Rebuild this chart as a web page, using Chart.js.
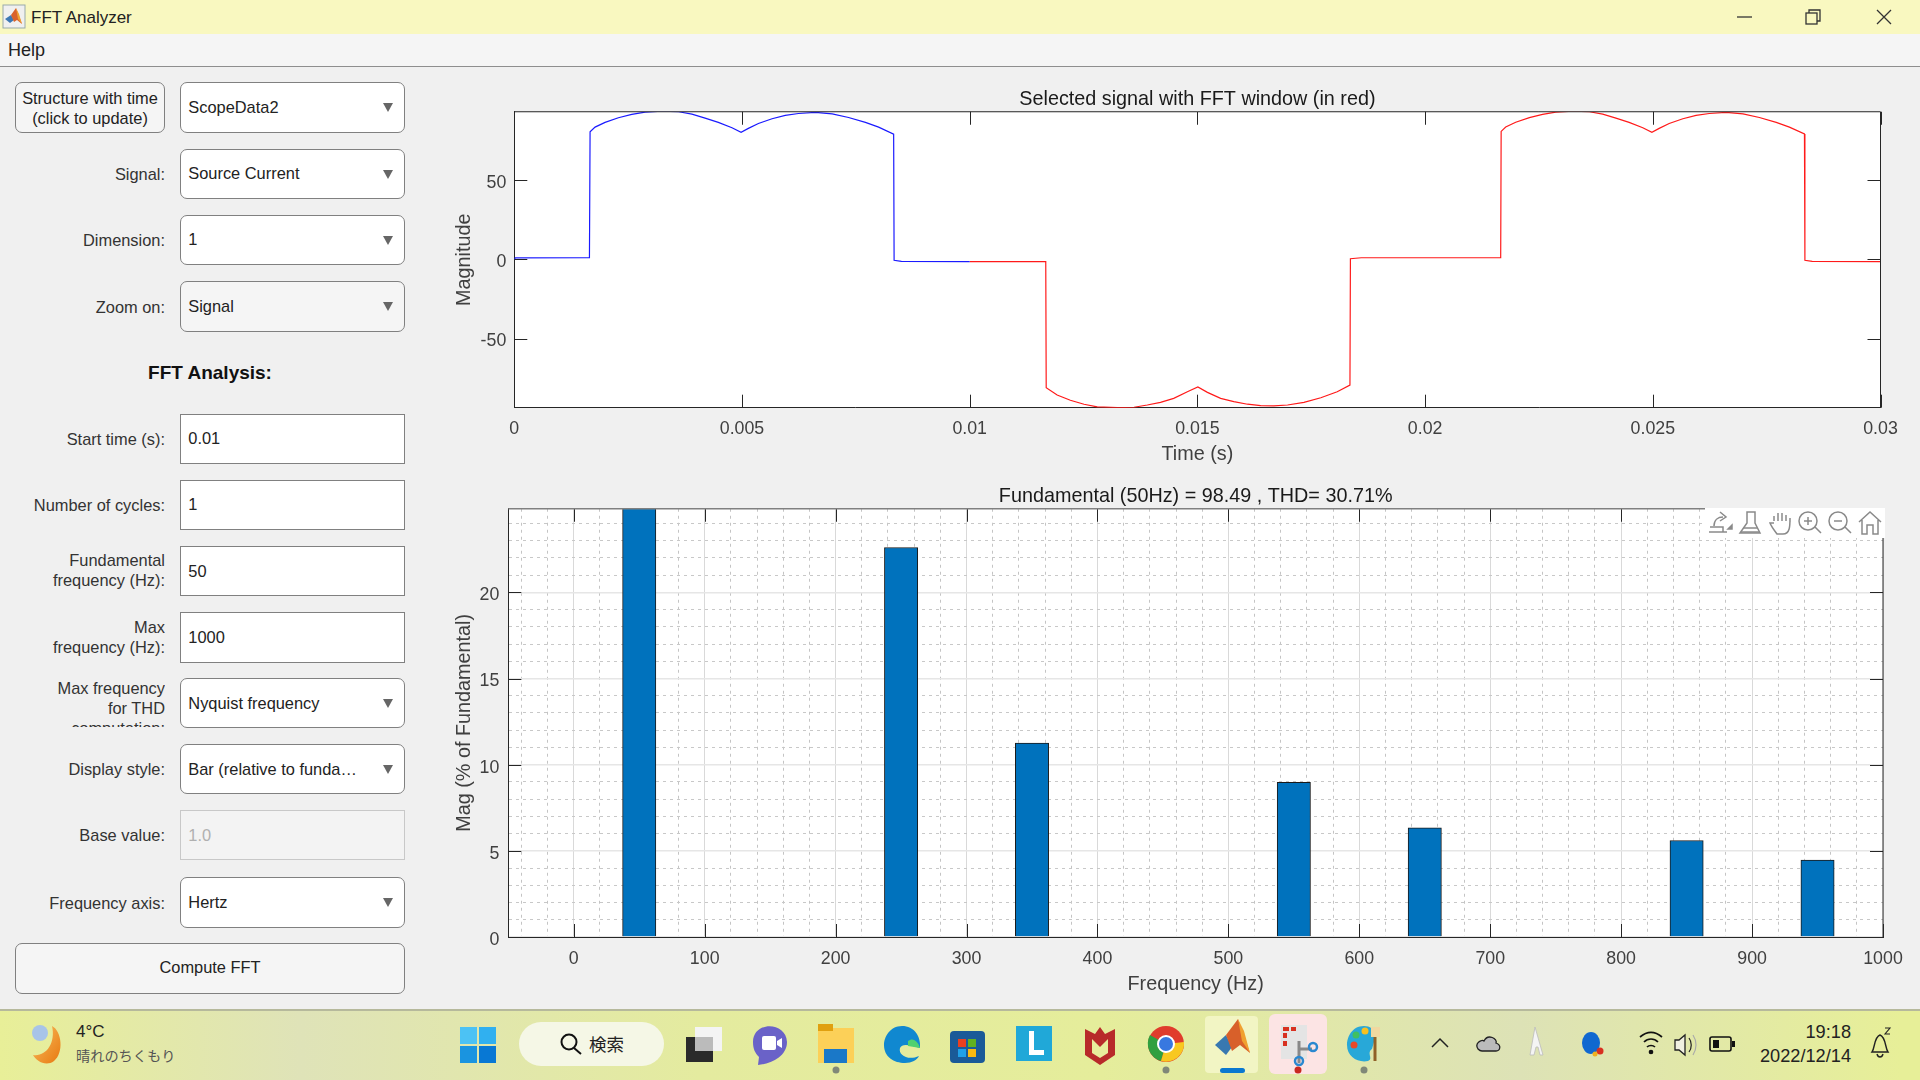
<!DOCTYPE html>
<html><head><meta charset="utf-8"><title>FFT Analyzer</title>
<script src="https://cdn.jsdelivr.net/npm/chart.js@4/dist/chart.umd.min.js"></script>
<style>
html,body{margin:0;padding:0;width:1920px;height:1080px;overflow:hidden;background:#f0f0f0;font-family:"Liberation Sans",Arial,sans-serif;color:#262626}
.a{position:absolute;box-sizing:border-box}
#bar{left:0;top:0;width:1920px;height:34px;background:#f9f8c0}
#menu{left:0;top:34px;width:1920px;height:33px;background:#f5f5f5;border-bottom:1px solid #8e8e8e}
.lab{font-size:16.4px;line-height:20px;text-align:right;left:0;width:165px;color:#333;overflow:hidden}
.fld{left:180.3px;width:224.4px;height:50.3px;border:1.2px solid #808080;background:#fff;font-size:16.4px;display:flex;align-items:center;padding:0 0 0 7px;color:#222;white-space:nowrap}
.dd{border-radius:7px}
.dd:after{content:"";position:absolute;right:11px;top:20px;border-left:5.8px solid transparent;border-right:5.8px solid transparent;border-top:9.5px solid #666}
.btn{border:1.2px solid #808080;border-radius:7px;background:#f5f5f5;font-size:16.4px;line-height:20px;text-align:center;display:flex;align-items:center;justify-content:center;color:#222}
canvas{position:absolute;display:block}
#task{left:0;top:1009px;width:1920px;height:71px;border-top:2px solid #b6b99c;background:linear-gradient(90deg,#e8ef98 0,#dfe3b8 300px,#e4eb9f 700px,#e5ed9b 1100px,#dde2b6 1520px,#e7ef98 1900px)}
</style></head><body>
<div class="a" id="bar"></div>
<svg class="a" style="left:0;top:0" width="40" height="34"><rect x="3" y="5" width="22" height="23" fill="#f0f0f0" stroke="#9aa" /><polygon points="5,19 11,15 14,20 10,23" fill="#3d78b4"/><polygon points="11,15 16,8 22,24 17,20 14,22" fill="#d9622b"/><polygon points="16,8 19,14 22,24 18,19" fill="#f0a030"/></svg>
<div class="a" style="left:31px;top:8px;font-size:17px;line-height:20px;color:#222">FFT Analyzer</div>
<svg class="a" style="left:1720px;top:0" width="200" height="34" fill="none" stroke="#333" stroke-width="1.3"><path d="M17 17H32"/><rect x="86" y="13" width="11" height="11"/><path d="M89 13V10H100V21H97"/><path d="M157 10L171 24M171 10L157 24"/></svg>
<div class="a" id="menu"></div>
<div class="a" style="left:8px;top:40px;font-size:18px;line-height:20px;color:#222">Help</div>
<div id="panel"></div>

<canvas id="timeChart" width="1480" height="396" style="left:440px;top:80px"></canvas>
<canvas id="fftChart" width="1480" height="524" style="left:440px;top:476px"></canvas>

<svg class="a" style="left:1705px;top:508px;background:#fff" width="180" height="30" fill="none" stroke="#8a8a8a" stroke-width="1.5">
<path d="M4 24H22M5 19H18V24M9 18C9 12 13 9 18 9M15 4L21 9L15 13"/><path d="M23 21l4-4v4z" fill="#8a8a8a"/>
<path d="M42 4H50V15L55 25H35L42 15Z"/><path d="M38 20H52M36 24H54"/>
<path d="M69 13V8M73 13V5M77 13V5M81 13V7M85 14V10C85 18 85 26 78 26H72C69 22 66 18 65 15L69 15"/>
<circle cx="103" cy="13" r="9"/><path d="M110 19L116 25M99 13H107M103 9V17"/>
<circle cx="133" cy="13" r="9"/><path d="M140 19L146 25M129 13H137"/>
<path d="M154 14L165 4L176 14M157 12V26H162V17H168V26H173V12"/>
</svg>

<div class="a" id="task"></div>
<svg class="a" style="left:0;top:1011px" width="1920" height="69">
 <defs><linearGradient id="m" x1="0" x2="1" y1="0" y2="1"><stop offset="0" stop-color="#f8c060"/><stop offset="1" stop-color="#e87810"/></linearGradient></defs>
 <path d="M52 15C62 20 64 42 54 50C46 56 36 50 33 44C46 46 56 32 52 15Z" fill="url(#m)"/>
 <circle cx="40" cy="22" r="8" fill="#a8c4e8"/>
 <g fill="#2a9fe8"><rect x="460" y="16" width="17" height="17" fill="#4cc2f4"/><rect x="479" y="16" width="17" height="17" fill="#30b0f0"/><rect x="460" y="35" width="17" height="17" fill="#1a94e0"/><rect x="479" y="35" width="17" height="17" fill="#0878d4"/></g>
 <rect x="519" y="11" width="145" height="44" rx="22" fill="#f5f7e6"/>
 <circle cx="569" cy="31" r="7.5" fill="none" stroke="#111" stroke-width="2"/><path d="M574 37L581 43" stroke="#111" stroke-width="2"/>
 <rect x="695" y="16" width="27" height="24" fill="#f4f4f4"/><rect x="686" y="26" width="27" height="25" fill="#2a2a2a"/><rect x="695" y="26" width="18" height="14" fill="#bbb"/>
 <path d="M753 31C753 10 786 10 787 31C787 46 770 53 758 54L759 46C755 42 753 38 753 31Z" fill="#6a62c8"/><rect x="762" y="25" width="14" height="14" rx="2" fill="#fff"/><path d="M777 30l5-3v10l-5-3z" fill="#fff"/>
 <rect x="818" y="17" width="36" height="35" fill="#fcd058"/><rect x="818" y="13" width="15" height="7" fill="#e0a010"/><rect x="824" y="38" width="23" height="14" fill="#1a78c8"/>
 <circle cx="836" cy="59" r="3.5" fill="#808878"/>
 <path d="M902 15C890 15 884 26 884 34C884 46 894 52 905 52C912 52 917 49 919 45C908 50 898 44 900 37C902 33 907 33 920 37C921 25 914 15 902 15Z" fill="#1088d0"/><path d="M908 30C913 26 918 30 920 37L908 35Z" fill="#50d070"/>
 <rect x="950" y="20" width="35" height="32" rx="4" fill="#1a5a98"/><rect x="958" y="28" width="8" height="8" fill="#e84020"/><rect x="968" y="28" width="8" height="8" fill="#60b020"/><rect x="958" y="38" width="8" height="8" fill="#20a0e8"/><rect x="968" y="38" width="8" height="8" fill="#f8b810"/>
 <rect x="1016" y="15" width="36" height="35" fill="#20a8d8"/><path d="M1029 20V44H1044V39H1034V20Z" fill="#fff"/>
 <path d="M1085 18L1095 23L1100 16L1105 23L1115 18V44L1100 54L1085 44Z" fill="#b82a2a"/><path d="M1092 28L1100 36L1108 28V42L1100 47L1092 42Z" fill="#e8ec9c"/>
 <circle cx="1166" cy="33" r="18" fill="#e03c2c"/><path d="M1166 33L1150 24A18 18 0 0 0 1161 50Z" fill="#30a040"/><path d="M1166 33L1161 50A18 18 0 0 0 1184 31Z" fill="#f8c820"/><circle cx="1166" cy="33" r="8" fill="#3878e0" stroke="#fff" stroke-width="2"/>
 <circle cx="1166" cy="59" r="3.5" fill="#808878"/>
 <rect x="1205" y="5" width="53" height="57" rx="4" fill="#f2f5c4"/>
 <polygon points="1215,34 1226,24 1232,36 1226,44" fill="#3878b0"/><polygon points="1226,24 1238,8 1250,42 1240,34 1232,40" fill="#d8602a"/><polygon points="1238,8 1244,20 1250,42 1242,30" fill="#f0a030"/>
 <rect x="1220" y="57" width="25" height="5" rx="2.5" fill="#0a78d0"/>
 <rect x="1269" y="3" width="58" height="60" rx="6" fill="#fce4e4"/>
 <rect x="1281" y="14" width="26" height="34" fill="#e4e4e4"/><path d="M1283 16h6v4h-6zM1291 16h5v4h-5zM1283 22h4v5h-4zM1283 30h4v5h-4z" fill="#d83020"/><path d="M1300 38L1312 38M1299 30V52" stroke="#888" stroke-width="3"/><circle cx="1313" cy="36" r="4" fill="none" stroke="#2a88d0" stroke-width="2.5"/><circle cx="1299" cy="50" r="4" fill="none" stroke="#2a88d0" stroke-width="2.5"/>
 <circle cx="1298" cy="59" r="3.5" fill="#c82820"/>
 <path d="M1364 15C1352 15 1347 26 1347 34C1347 46 1358 52 1368 50C1374 48 1366 42 1372 38L1376 24C1374 18 1370 15 1364 15Z" fill="#28a8d8"/><circle cx="1356" cy="24" r="3.5" fill="#40c060"/><circle cx="1365" cy="20" r="3.5" fill="#f8c020"/><circle cx="1354" cy="34" r="3.5" fill="#e84828"/><path d="M1375 26V50" stroke="#906028" stroke-width="3"/><rect x="1371" y="16" width="9" height="10" fill="#f0d8a0"/>
 <circle cx="1364" cy="59" r="3.5" fill="#808878"/>
 <path d="M1432 36L1440 28L1448 36" fill="none" stroke="#222" stroke-width="1.5"/>
 <path d="M1478 38C1474 32 1482 28 1484 30C1488 22 1498 28 1496 32C1502 34 1500 40 1496 40H1482C1480 40 1479 39 1478 38Z" fill="#bbb" stroke="#222" stroke-width="1.3"/>
 <path d="M1535 16L1530 44H1534L1536 36H1538L1540 44H1543Z" fill="#f4f4f4" stroke="#bbb" stroke-width=".8"/>
 <ellipse cx="1591" cy="32" rx="9" ry="11" fill="#1068d0"/><circle cx="1600" cy="40" r="3.5" fill="#d83020"/><circle cx="1595" cy="43" r="2.5" fill="#f0b020"/>
 <g fill="none" stroke="#111" stroke-width="1.7"><path d="M1640 26C1647 20 1655 20 1662 26M1644 31C1648 27 1654 27 1658 31M1647 36C1649 34 1653 34 1655 36"/><circle cx="1651" cy="41" r="1.5" fill="#111"/></g>
 <path d="M1675 29H1679L1685 24V44L1679 39H1675Z" fill="#f0f0e0" stroke="#222" stroke-width="1.3"/><path d="M1689 27C1692 31 1692 37 1689 41" fill="none" stroke="#222" stroke-width="1.2"/><path d="M1693 24C1697 30 1697 38 1693 44" fill="none" stroke="#aaa" stroke-width="1.2"/>
 <rect x="1710" y="26" width="21" height="14" rx="2" fill="none" stroke="#111" stroke-width="1.6"/><rect x="1713" y="29" width="6" height="8" fill="#111"/><rect x="1732" y="30" width="3" height="6" fill="#111"/>
 <path d="M1872 41C1875 37 1874 26 1880 24C1886 26 1885 37 1888 41ZM1877 43C1878 47 1882 47 1883 43" fill="none" stroke="#222" stroke-width="1.4"/>
 <path d="M1885 17H1890L1885 23H1890" fill="none" stroke="#222" stroke-width="1.1"/>
</svg>
<div class="a" style="left:76px;top:1022px;font-size:17px;line-height:20px;color:#222">4°C</div>
<div class="a" style="left:76px;top:1045px;font-size:14.2px;line-height:20px;color:#555;font-family:'Noto Sans CJK JP'">晴れのちくもり</div>
<div class="a" style="left:589px;top:1033px;font-size:17.5px;line-height:22px;color:#222;font-family:'Noto Sans CJK JP'">検索</div>
<div class="a" style="right:69px;top:1021px;font-size:18.2px;line-height:22px;color:#222;text-align:right">19:18</div>
<div class="a" style="right:69px;top:1045px;font-size:18.2px;line-height:22px;color:#222;text-align:right">2022/12/14</div>

<script>
// ---- Time signal ----
const timeBlue = [0,0.00002,0.00165,0.001664,0.001774,0.001993,0.002286,0.00258,0.002873,0.00324,0.00361,0.0039,0.00419,0.00448,0.00478,0.00498,0.00514,0.00536,0.00566,0.00595,0.00624,0.00661,0.00698,0.00734,0.00771,0.008,0.00833,0.00834,0.0085,0.01];
const valueBlue = [-0.3,0.9,1,80.6,83.5,86.5,89.4,91.5,93,93.6,93.2,91.7,89.2,86.5,83.1,80.2,82.7,85.8,88.8,90.9,92.1,92.8,91.9,89.6,86.5,83.5,79.1,-0.6,-1.3,-1.4];
const timeRed = [0.01,0.01167,0.01168,0.01192,0.01221,0.01251,0.0128,0.01324,0.01361,0.0139,0.01419,0.01448,0.01478,0.01501,0.01522,0.01551,0.0158,0.0161,0.01639,0.01668,0.01698,0.01734,0.01771,0.01807,0.01835,0.01836,0.0186,0.02166,0.02167,0.02177,0.02199,0.02229,0.02258,0.02287,0.02324,0.02361,0.0239,0.02419,0.02448,0.02478,0.02498,0.02514,0.02536,0.02566,0.02595,0.02624,0.02661,0.02698,0.02734,0.02771,0.028,0.02833,0.02834,0.0285,0.03];
const valueRed = [-1.4,-1.4,-81.1,-85.7,-89,-91.5,-93.2,-93.6,-93.4,-92,-90.3,-87.8,-83.6,-80.6,-84,-87.8,-89.9,-91.5,-92.4,-92.6,-92,-90.3,-87.4,-83.6,-79.4,0.4,1,1,80.8,83.6,86.6,89.5,91.6,93,93.6,93.2,91.7,89.2,86.5,83.1,80.2,82.7,85.8,88.8,90.9,92.1,92.8,91.9,89.6,86.5,83.5,79.2,-0.6,-1.3,-1.4];
const timeTicks = [0,0.005,0.01,0.015,0.02,0.025,0.03];
const timeTickLabels = ["0","0.005","0.01","0.015","0.02","0.025","0.03"];
const magTicks = [-50,0,50];

// ---- FFT spectrum ----
const freqs = [50,250,350,550,650,850,950];
const mags = [100,22.6,11.26,8.97,6.34,5.6,4.47];
const freqMajor = [0,100,200,300,400,500,600,700,800,900,1000];
const freqMinor = [-40,-20,20,40,60,80,120,140,160,180,220,240,260,280,320,340,360,380,420,440,460,480,520,540,560,580,620,640,660,680,720,740,760,780,820,840,860,880,920,940,960,980];
const pctMajor = [0,5,10,15,20];
const pctMinor = [1,2,3,4,6,7,8,9,11,12,13,14,16,17,18,19,21,22,23,24];

// ---- Panel contents ----
const dropRows = [[0,"ScopeData2","",1],[1,"Source Current","Signal:",1],[2,"1","Dimension:",1],[3,"Signal","Zoom on:",1],
 [5,"0.01","Start time (s):",0],[6,"1","Number of cycles:",0],[7,"50","Fundamental<br>frequency (Hz):",0],[8,"1000","Max<br>frequency (Hz):",0],
 [9,"Nyquist frequency","Max frequency<br>for THD<br>computation:",1],[10,"Bar (relative to funda…","Display style:",1],[11,"1.0","Base value:",2],[12,"Hertz","Frequency axis:",1]];
const rowTops = [82.3,148.5,214.7,281.3,347,413.5,479.8,546,612.3,678,744,810,877.3];

const panel = document.getElementById('panel');
let html = '<div class="a btn" style="left:15.3px;top:82.3px;width:149.4px;height:50.3px;padding-top:1px">Structure with time<br>(click to update)</div>';
html += '<div class="a" style="left:0;width:420px;top:362px;text-align:center;font-size:19px;line-height:22px;font-weight:bold;color:#111">FFT Analysis:</div>';
html += '<div class="a btn" style="left:15.3px;top:943.3px;width:389.4px;height:50.3px;padding-bottom:2px">Compute FFT</div>';
for (const [r,val,lab,kind] of dropRows){
  const t = rowTops[r];
  const cls = kind===1 ? 'fld dd' : 'fld';
  let st = `top:${t}px;`;
  if (r===3) st += 'background:#f5f5f5;';
  if (kind===2) st += 'background:#f3f3f3;border-color:#c8c8c8;color:#b0b0b0;';
  html += `<div class="a ${cls}" style="${st}">${val}</div>`;
  if (lab){
    const lines = lab.split('<br>').length;
    const h = lines===3 ? 49 : lines*20;
    const top = lines===3 ? t+0 : t+25.2-h/2-(lines===2?1:0);
    html += `<div class="a lab" style="top:${top}px;height:${h}px">${lab}</div>`;
  }
}
panel.innerHTML = html;

// ---- Charts ----
Chart.defaults.font.family = '"Liberation Sans", Arial, sans-serif';
const tickColor = '#404040', boxColor = '#262626';

const boxPlugin = {
  id:'box',
  beforeDraw(c){ const a=c.chartArea,x=c.ctx; x.save(); x.fillStyle='#fff'; x.fillRect(a.left,a.top,a.right-a.left,a.bottom-a.top); x.restore(); },
  afterDatasetsDraw(c,_,o){
    const a=c.chartArea,x=c.ctx; x.save(); x.strokeStyle=boxColor; x.lineWidth=1; x.beginPath();
    const L=13;
    o.xt.forEach(v=>{const p=Math.round(c.scales.x.getPixelForValue(v))+.5; x.moveTo(p,a.bottom); x.lineTo(p,a.bottom-L); x.moveTo(p,a.top); x.lineTo(p,a.top+L);});
    o.yt.forEach(v=>{const p=Math.round(c.scales.y.getPixelForValue(v))+.5; x.moveTo(a.left,p); x.lineTo(a.left+L,p); x.moveTo(a.right,p); x.lineTo(a.right-L,p);});
    x.moveTo(a.right,a.top); x.lineTo(a.right,a.bottom); x.stroke();
    x.strokeStyle=o.topColor; x.lineWidth=o.topWidth; x.beginPath(); x.moveTo(a.left,a.top); x.lineTo(a.right,a.top); x.stroke();
    x.restore();
  }
};
const setTicks = vals => scale => { scale.ticks = vals.map(v=>({value:v})); };
const fixW = w => s => { s.width = w; };
const fixH = h => s => { s.height = h; };

new Chart(document.getElementById('timeChart'),{
  type:'scatter',
  data:{datasets:[
    {data:timeBlue.map((x,i)=>({x,y:valueBlue[i]})),showLine:true,borderColor:'#1a1aff',borderWidth:1.2,pointRadius:0,tension:0},
    {data:timeRed.map((x,i)=>({x,y:valueRed[i]})),showLine:true,borderColor:'#ff1a1a',borderWidth:1.2,pointRadius:0,tension:0}
  ]},
  options:{responsive:false,animation:false,events:[],
    layout:{padding:{right:39.5,bottom:0,top:0,left:0}},
    plugins:{legend:{display:false},tooltip:{enabled:false},
      title:{display:true,fullSize:false,text:'Selected signal with FFT window (in red)',color:'#1a1a1a',font:{size:19.8,weight:'normal'},padding:{top:7.6,bottom:0.4}},
      box:{xt:timeTicks,yt:magTicks,topColor:boxColor,topWidth:1}},
    scales:{
      x:{type:'linear',min:0,max:0.03,afterBuildTicks:setTicks(timeTicks),afterFit:fixH(68.3),
        grid:{display:false,drawTicks:false},border:{color:boxColor},
        ticks:{autoSkip:false,maxRotation:0,color:tickColor,font:{size:17.8},padding:10.4,callback:v=>timeTickLabels[timeTicks.indexOf(v)]},
        title:{display:true,text:'Time (s)',color:tickColor,font:{size:19.8},padding:{top:0,bottom:9.2}}},
      y:{type:'linear',min:-93.7,max:93.2,afterBuildTicks:setTicks(magTicks),afterFit:fixW(74.3),
        grid:{display:false,drawTicks:false},border:{color:boxColor},
        ticks:{autoSkip:false,color:tickColor,font:{size:17.8},padding:8,labelOffset:3},
        title:{display:true,text:'Magnitude',color:tickColor,font:{size:19.8},padding:{top:12.2,bottom:0}}}
    }},
  plugins:[boxPlugin]
});

const freqAll = freqMinor.concat(freqMajor).sort((a,b)=>a-b);
const pctAll = pctMinor.concat(pctMajor).sort((a,b)=>a-b);
new Chart(document.getElementById('fftChart'),{
  type:'bar',
  data:{datasets:[{data:freqs.map((x,i)=>({x,y:mags[i]})),backgroundColor:'#0072bd',borderColor:'#1a1a1a',borderWidth:1,barThickness:33.3}]},
  options:{responsive:false,animation:false,events:[],
    layout:{padding:{right:37,bottom:0,top:0,left:0}},
    plugins:{legend:{display:false},tooltip:{enabled:false},
      title:{display:true,fullSize:false,text:'Fundamental (50Hz) = 98.49 , THD= 30.71%',color:'#1a1a1a',font:{size:19.8,weight:'normal'},padding:{top:8.7,bottom:0.3}},
      box:{xt:freqMajor,yt:pctMajor,topColor:'#808080',topWidth:1.5}},
    scales:{
      x:{type:'linear',offset:false,min:-50,max:1000,afterBuildTicks:setTicks(freqAll),afterFit:fixH(63),
        grid:{offset:false,drawTicks:false,lineWidth:1,color:c=>freqMajor.includes(c.tick.value)?'#d9d9d9':'#c4c4c4'},
        border:{color:boxColor,dash:c=>freqMajor.includes(c.tick&&c.tick.value)?[]:[3,4]},
        ticks:{autoSkip:false,maxRotation:0,color:tickColor,font:{size:17.8},padding:11.4,callback:v=>freqMajor.includes(v)?String(v):''},
        title:{display:true,text:'Frequency (Hz)',color:tickColor,font:{size:19.8},padding:{top:0,bottom:3.7}}},
      y:{type:'linear',min:0,max:24.85,afterBuildTicks:setTicks(pctAll),afterFit:fixW(68.3),
        grid:{drawTicks:false,lineWidth:c=>pctMajor.includes(c.tick.value)?1.5:1,color:c=>pctMajor.includes(c.tick.value)?'#e6e6e6':'#c8c8c8'},
        border:{color:boxColor,dash:c=>pctMajor.includes(c.tick&&c.tick.value)?[]:[3,4]},
        ticks:{autoSkip:false,color:tickColor,font:{size:17.8},padding:9,labelOffset:3,callback:v=>pctMajor.includes(v)?String(v):''},
        title:{display:true,text:'Mag (% of Fundamental)',color:tickColor,font:{size:19.8},padding:{top:12.2,bottom:0}}}
    }},
  plugins:[boxPlugin]
});
</script>
</body></html>
